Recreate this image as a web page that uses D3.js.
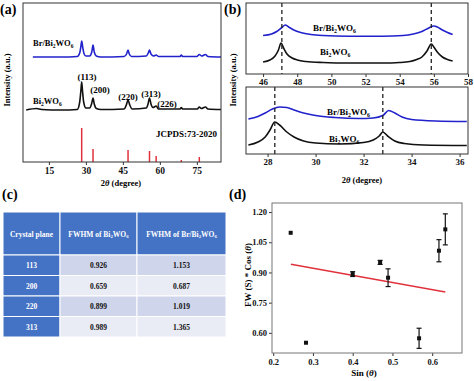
<!DOCTYPE html>
<html>
<head>
<meta charset="utf-8">
<script src="https://cdnjs.cloudflare.com/ajax/libs/d3/7.8.5/d3.min.js"></script>
<style>
body { margin: 0; background: #fff; }
svg { display: block; font-family: "Liberation Serif", "Times New Roman", serif; font-weight: bold; }
</style>
</head>
<body>
<div id="figure"></div>
<script>
//XRD patterns (a): [2theta, intensity a.u.]
var xrdBr = [[8.5,105],[20,105],[26.5,105.5],[27.5,109],[28.0,116],[28.3,121],[28.7,115],[29.3,108],[30,106],[31.5,106],
    [32.4,110],[32.9,117],[33.4,110],[34.2,106],[36,105],[45.5,105.5],[46.5,108],[47.1,112],[47.6,108],[48.5,105.5],
    [54.5,106],[55.3,109],[55.8,112],[56.4,108],[57.5,106],[58.5,107],[59.5,105.5],[68.2,105.5],[68.7,107],[69.2,105.5],
    [75,105.5],[76,107.5],[77,106],[78.5,107.5],[79.5,105.5],[84.8,105]];
var xrdBi = [[5.8,52],[10,53.5],[12,52.5],[20,52],[26.5,52.5],[27.5,60],[28.0,72],[28.3,80],[28.6,72],[29.1,60],[30,54],
    [31.5,54],[32.3,58],[32.9,64],[33.4,58],[34.3,53.5],[36,52.5],[45.5,53],[46.4,57],[47.1,62],[47.8,57],[48.8,53],
    [54.5,54],[55.2,58],[55.8,64],[56.4,58],[57.2,54.5],[58.5,56],[59.5,53],[68.2,53],[68.7,54.5],[69.2,53],
    [75.2,53],[76,55],[76.8,53.5],[78.5,55],[79.5,53],[84.8,52.5]];
var refPos = [28.3, 32.9, 47.1, 55.8, 58.5, 68.7, 76.0];
var refHeight = [34, 13, 12, 11, 6, 2, 5];
var peakNames = ["(113)", "(200)", "(220)", "(313)", "(226)"];
var peakLabelPos = [[30.5, 82], [35.7, 69], [47.1, 62], [56.4, 65], [62.9, 55]];
var xrdTicks = [15, 30, 45, 60, 75];

//zoomed patterns (b)
var zoomHighBr = [[46.0,38.5],[46.5,40],[46.8,42.5],[47.1,46.5],[47.3,49],[47.5,47],[47.8,44],[48.2,41.5],[48.8,39.5],
    [49.5,38.5],[51,37.8],[53,37.8],[54.2,38.5],[54.8,40],[55.3,42.5],[55.7,46],[56.0,48],[56.2,47],[56.5,44],[56.8,41.5],[57.1,39.5]];
var zoomHighBi = [[46.0,12],[46.4,14],[46.7,18],[46.9,24],[47.05,31],[47.2,26],[47.4,20],[47.7,16],[48.0,14],[48.5,12.5],
    [49.5,11.5],[51,11],[53,11],[54,11.5],[54.6,12.5],[55.0,14.5],[55.3,17],[55.6,23],[55.85,30],[56.0,27],[56.2,22],
    [56.5,17],[56.8,14.5],[57.1,13]];
var zoomLowBr = [[27.2,35],[27.6,37.5],[27.9,41],[28.2,45],[28.5,47],[28.8,46.5],[29.1,44],[29.5,41],[30.0,38.5],[30.8,36.5],
    [31.8,35.5],[32.4,36],[32.8,38.5],[33.05,43.5],[33.3,41],[33.6,37],[34.0,34.5],[35.0,33],[36.3,32.5]];
var zoomLowBi = [[27.2,9],[27.6,12],[27.9,17],[28.1,24],[28.3,32],[28.5,29],[28.8,22],[29.1,17],[29.5,13],[30.0,11],
    [31.0,10],[32.0,11.5],[32.4,14],[32.65,18],[32.8,22],[33.0,18],[33.3,13],[33.7,10.5],[34.5,9],[36.3,8.5]];
var highDash = [47.1, 55.85];
var lowDash = [28.3, 32.8];
var highTicks = [46, 48, 50, 52, 54, 56, 58];
var lowTicks = [28, 30, 32, 34, 36];

//FWHM table (c)
var planes = ["113", "200", "220", "313"];
var fwhmBi = ["0.926", "0.659", "0.899", "0.989"];
var fwhmBr = ["1.153", "0.687", "1.019", "1.365"];

//Williamson-Hall plot (d)
var sinTheta = [0.244, 0.2825, 0.400, 0.469, 0.489, 0.567, 0.617, 0.633];
var fwCos = [1.097, 0.551, 0.892, 0.950, 0.874, 0.573, 1.008, 1.114];
var fwErr = [0, 0, 0.012, 0.01, 0.044, 0.05, 0.055, 0.077];
var fitLine = [[0.2445, 0.9405], [0.633, 0.803]];
var whYTicks = [0.60, 0.75, 0.90, 1.05, 1.20];
var whXTicks = [0.2, 0.3, 0.4, 0.5, 0.6];

var blue = "#2222cc";
var red = "#e0323c";

var svg = d3.select("#figure").append("svg")
    .attr("width", 474)
    .attr("height", 381);

//writes "Bi2WO6" with subscripts into a text element
function formula(textSel, prefix, size){
    textSel.append("tspan").text(prefix + "Bi");
    textSel.append("tspan").attr("font-size", size * 0.65).attr("dy", size * 0.25).text("2");
    textSel.append("tspan").attr("dy", -size * 0.25).text("WO");
    textSel.append("tspan").attr("font-size", size * 0.65).attr("dy", size * 0.25).text("6");
}

function thetaLabel(textSel, before, after){
    textSel.append("tspan").text(before);
    textSel.append("tspan").attr("font-style", "italic").text("\u03b8");
    textSel.append("tspan").text(after);
}

function styleAxis(g, size){
    g.attr("font-family", null);
    g.select(".domain").remove();
    g.selectAll("line").attr("stroke", "#333");
    g.selectAll("text").attr("font-size", size).attr("font-weight", "bold").attr("fill", "#111");
}

function panelLabel(x, y, txt){
    svg.append("text").attr("x", x).attr("y", y).attr("font-size", 14).text(txt);
}

// ---------- (a) ----------
var xA = d3.scaleLinear().domain([4.5, 84.8]).range([23, 221]);
var yA = d3.scaleLinear().domain([0, 159]).range([162, 3]);
var lineA = d3.line()
    .x(function(d){ return xA(d[0]); })
    .y(function(d){ return yA(d[1]); })
    .curve(d3.curveMonotoneX);

svg.append("g").attr("transform", "translate(0,162)")
    .call(d3.axisBottom(xA).tickValues(xrdTicks).tickSize(3).tickPadding(2))
    .call(styleAxis, 9.5);

svg.append("path").datum(xrdBr).attr("d", lineA)
    .attr("fill", "none").attr("stroke", blue).attr("stroke-width", 1.6);
svg.append("path").datum(xrdBi).attr("d", lineA)
    .attr("fill", "none").attr("stroke", "#111").attr("stroke-width", 1.6);

svg.selectAll(".ref").data(refPos).enter().append("line")
    .attr("x1", function(d){ return xA(d); })
    .attr("x2", function(d){ return xA(d); })
    .attr("y1", yA(0))
    .attr("y2", function(d, i){ return yA(refHeight[i]); })
    .attr("stroke", red).attr("stroke-width", 1.5);

svg.append("rect").attr("x", 23).attr("y", 3).attr("width", 198).attr("height", 159)
    .attr("fill", "none").attr("stroke", "#333").attr("stroke-width", 1);

svg.append("text").attr("x", 33).attr("y", 46).attr("font-size", 8.5).call(formula, "Br/", 8.5);
svg.append("text").attr("x", 33).attr("y", 104).attr("font-size", 8.5).call(formula, "", 8.5);

svg.selectAll(".peak").data(peakNames).enter().append("text")
    .attr("x", function(d, i){ return xA(peakLabelPos[i][0]); })
    .attr("y", function(d, i){ return yA(peakLabelPos[i][1]); })
    .attr("text-anchor", "middle").attr("font-size", 9)
    .text(function(d){ return d; });

svg.append("text").attr("x", 217).attr("y", 137).attr("text-anchor", "end")
    .attr("font-size", 9).text("JCPDS:73-2020");

svg.append("text").attr("x", 121).attr("y", 186).attr("text-anchor", "middle")
    .attr("font-size", 8.5).call(thetaLabel, "2", " (degree)");
svg.append("text").attr("transform", "translate(10,80) rotate(-90)")
    .attr("text-anchor", "middle").attr("font-size", 8.5).text("Intensity (a.u.)");
panelLabel(0, 14, "(a)");

// ---------- (b) ----------
var xB1 = d3.scaleLinear().domain([45, 58]).range([246, 468]);
var yB1 = d3.scaleLinear().domain([0, 71]).range([74, 3]);
var xB2 = d3.scaleLinear().domain([27.1, 36.35]).range([246, 468]);
var yB2 = d3.scaleLinear().domain([0, 67]).range([154, 87]);

function zoomPanel(xs, ys, br, bi, dash, ticks, top, bottom){
    var line = d3.line()
        .x(function(d){ return xs(d[0]); })
        .y(function(d){ return ys(d[1]); })
        .curve(d3.curveMonotoneX);

    svg.append("g").attr("transform", "translate(0," + bottom + ")")
        .call(d3.axisBottom(xs).tickValues(ticks).tickSize(3).tickPadding(2))
        .call(styleAxis, 9);

    svg.append("path").datum(br).attr("d", line)
        .attr("fill", "none").attr("stroke", blue).attr("stroke-width", 1.6);
    svg.append("path").datum(bi).attr("d", line)
        .attr("fill", "none").attr("stroke", "#111").attr("stroke-width", 1.6);

    svg.selectAll(null).data(dash).enter().append("line")
        .attr("x1", function(d){ return xs(d); })
        .attr("x2", function(d){ return xs(d); })
        .attr("y1", top).attr("y2", bottom)
        .attr("stroke", "#222").attr("stroke-width", 1.3).attr("stroke-dasharray", "4,3");

    svg.append("rect").attr("x", 246).attr("y", top).attr("width", 222).attr("height", bottom - top)
        .attr("fill", "none").attr("stroke", "#333").attr("stroke-width", 1);
}

zoomPanel(xB1, yB1, zoomHighBr, zoomHighBi, highDash, highTicks, 3, 74);
zoomPanel(xB2, yB2, zoomLowBr, zoomLowBi, lowDash, lowTicks, 87, 154);

svg.append("text").attr("x", 313).attr("y", 31).attr("font-size", 9).call(formula, "Br/", 9);
svg.append("text").attr("x", 320).attr("y", 55).attr("font-size", 9).call(formula, "", 9);
svg.append("text").attr("x", 327).attr("y", 115).attr("font-size", 9).call(formula, "Br/", 9);
svg.append("text").attr("x", 329).attr("y", 142).attr("font-size", 9).call(formula, "", 9);

svg.append("text").attr("x", 362).attr("y", 183).attr("text-anchor", "middle")
    .attr("font-size", 8.5).call(thetaLabel, "2", " (degree)");
svg.append("text").attr("transform", "translate(236,80) rotate(-90)")
    .attr("text-anchor", "middle").attr("font-size", 8.5).text("Intensity (a.u.)");
panelLabel(224, 14, "(b)");

// ---------- (c) ----------
var colX = [3, 60, 137, 226];
var headerTop = 212, headerBottom = 255, rowH = 20.5;
var table = svg.append("g");

var header = ["Crystal plane", "FWHM of ", "FWHM of "];
header.forEach(function(h, i){
    table.append("rect").attr("x", colX[i]).attr("y", headerTop)
        .attr("width", colX[i + 1] - colX[i]).attr("height", headerBottom - headerTop)
        .attr("fill", "#4472c4").attr("stroke", "#fff").attr("stroke-width", 1);
    var t = table.append("text").attr("x", (colX[i] + colX[i + 1]) / 2).attr("y", (headerTop + headerBottom) / 2 + 3)
        .attr("text-anchor", "middle").attr("font-size", 7.5).attr("fill", "#fff");
    if (i == 0) t.text(h);
    else t.call(formula, h + (i == 2 ? "Br/" : ""), 7.5);
});

planes.forEach(function(p, r){
    var y0 = headerBottom + r * rowH;
    var cells = [p, fwhmBi[r], fwhmBr[r]];
    cells.forEach(function(c, i){
        var fill = i == 0 ? "#4472c4" : (r % 2 == 0 ? "#cfd5ea" : "#e9ebf5");
        table.append("rect").attr("x", colX[i]).attr("y", y0)
            .attr("width", colX[i + 1] - colX[i]).attr("height", rowH)
            .attr("fill", fill).attr("stroke", "#fff").attr("stroke-width", 1);
        table.append("text").attr("x", (colX[i] + colX[i + 1]) / 2).attr("y", y0 + rowH / 2 + 3)
            .attr("text-anchor", "middle").attr("font-size", 7.5)
            .attr("fill", i == 0 ? "#fff" : "#111").text(c);
    });
});
panelLabel(2, 199, "(c)");

// ---------- (d) ----------
var xD = d3.scaleLinear().domain([0.197, 0.675]).range([272, 462]);
var yD = d3.scaleLinear().domain([0.50, 1.245]).range([353, 203]);

svg.append("g").attr("transform", "translate(0,353)")
    .call(d3.axisBottom(xD).tickValues(whXTicks).tickFormat(d3.format(".1f")).tickSize(3).tickPadding(3))
    .call(styleAxis, 8.5);
svg.append("g").attr("transform", "translate(272,0)")
    .call(d3.axisLeft(yD).tickValues(whYTicks).tickFormat(d3.format(".2f")).tickSize(3).tickPadding(2))
    .call(styleAxis, 8.5);

svg.append("rect").attr("x", 272).attr("y", 203).attr("width", 190).attr("height", 150)
    .attr("fill", "none").attr("stroke", "#777").attr("stroke-width", 1);

svg.append("line")
    .attr("x1", xD(fitLine[0][0])).attr("y1", yD(fitLine[0][1]))
    .attr("x2", xD(fitLine[1][0])).attr("y2", yD(fitLine[1][1]))
    .attr("stroke", red).attr("stroke-width", 1.4);

var pts = svg.selectAll(".pt").data(sinTheta).enter().append("g");
pts.filter(function(d, i){ return fwErr[i] > 0; }).each(function(d){
    var k = sinTheta.indexOf(d);
    var g = d3.select(this);
    var x = xD(d), top = yD(fwCos[k] + fwErr[k]), bot = yD(fwCos[k] - fwErr[k]);
    g.append("line").attr("x1", x).attr("x2", x).attr("y1", top).attr("y2", bot)
        .attr("stroke", "#111").attr("stroke-width", 1.2);
    g.append("line").attr("x1", x - 2.5).attr("x2", x + 2.5).attr("y1", top).attr("y2", top)
        .attr("stroke", "#111").attr("stroke-width", 1.2);
    g.append("line").attr("x1", x - 2.5).attr("x2", x + 2.5).attr("y1", bot).attr("y2", bot)
        .attr("stroke", "#111").attr("stroke-width", 1.2);
});
pts.append("rect")
    .attr("x", function(d){ return xD(d) - 2; })
    .attr("y", function(d, i){ return yD(fwCos[i]) - 2; })
    .attr("width", 4).attr("height", 4).attr("fill", "#111");

svg.append("text").attr("x", 364).attr("y", 376).attr("text-anchor", "middle")
    .attr("font-size", 9).call(thetaLabel, "Sin (", ")");
svg.append("text").attr("transform", "translate(251,275) rotate(-90)")
    .attr("text-anchor", "middle").attr("font-size", 9).call(thetaLabel, "FW (S) * Cos (", ")");
panelLabel(229, 199, "(d)");
</script>
</body>
</html>
